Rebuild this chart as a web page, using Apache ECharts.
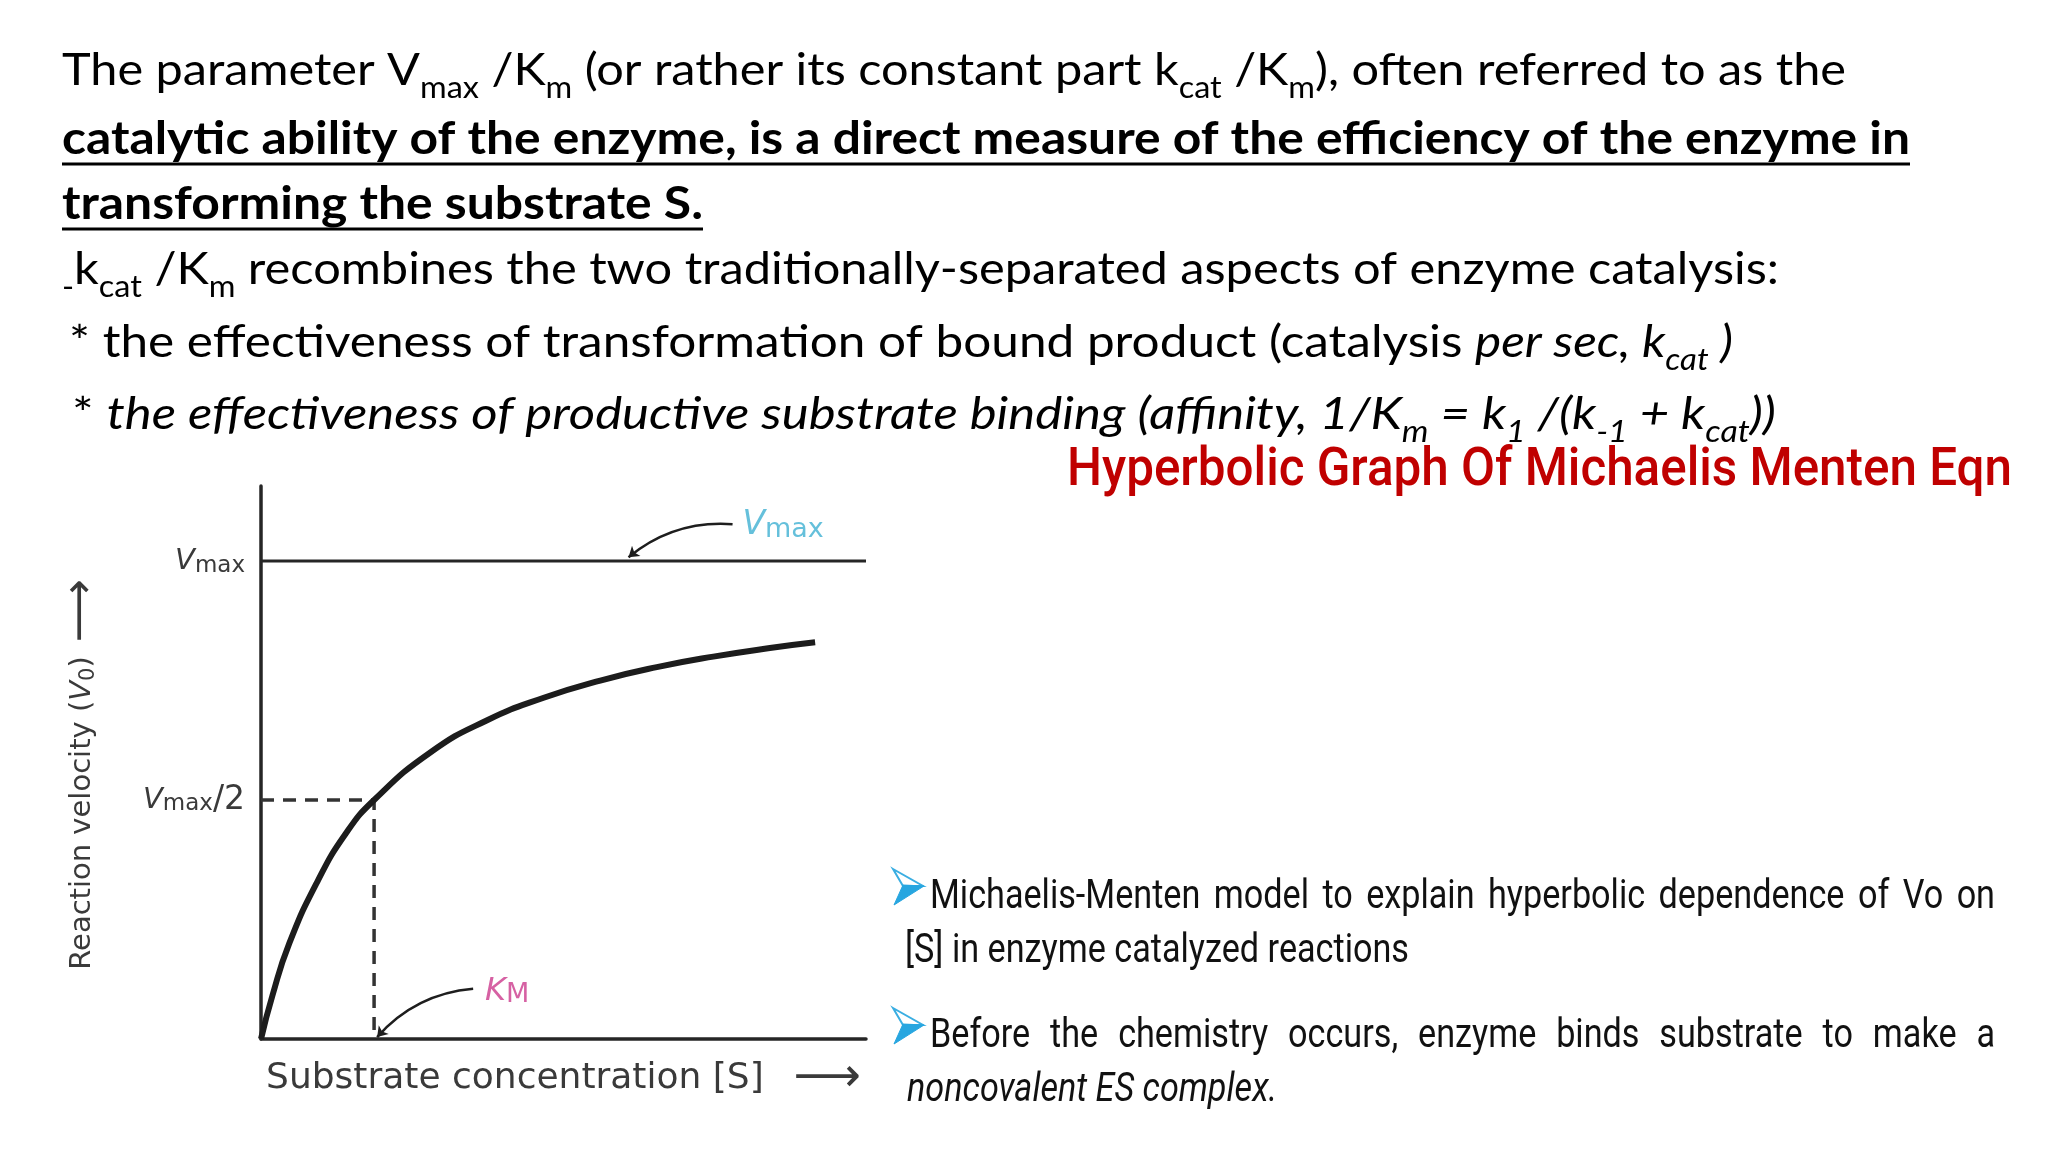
<!DOCTYPE html>
<html>
<head>
<meta charset="utf-8">
<script src="https://cdn.jsdelivr.net/npm/echarts@6/dist/echarts.min.js"></script>
<style>
html,body{margin:0;padding:0;background:#ffffff;}
#chart{width:2048px;height:1152px;}
</style>
</head>
<body>
<div id="chart"></div>
<script>
// ---------------- data ----------------
// substrate concentration in units of K_M, velocity in units of Vmax
const substrateConc    = [0, 0.1, 0.25, 0.5, 0.75, 1, 1.5, 2, 2.5, 3, 3.5, 4, 4.5, 4.9];
const reactionVelocity = [0, 0.09, 0.2, 0.33, 0.43, 0.5, 0.6, 0.667, 0.714, 0.75, 0.778, 0.8, 0.818, 0.83];
const vmaxLevel = 1;
const halfVmaxLevel = 0.5;
const kmValue = 1;
const xAxisMax = 5.35;
const yAxisMax = 1.157;
const yTickValues = [0.5, 1];
const yTickLabels = ['{v|V}{s|max}{n|/2}', '{v|V}{s|max}'];
const xAxisTitle = '{n|Substrate concentration [S]}{a|  ⟶}';
const yAxisTitle = '{n|Reaction velocity (}{v|V}{s|0}{n|)}{a| ⟶}';
const vmaxNote = '{v|V}{s|max}';
const kmNote = '{v|K}{s|M}';

// paragraph text (runs: [text, style])
const introLines = [
  [['The parameter V','n'],['max','s'],[' /K','n'],['m','s'],[' (or rather its constant part k','n'],['cat','s'],[' /K','n'],['m','s'],['), often referred to as the','n']],
  [['catalytic ability of the enzyme, is a direct measure of the efficiency of the enzyme in','b']],
  [['transforming the substrate S.','b']],
  [['-','s'],['k','n'],['cat','s'],[' /K','n'],['m','s'],[' recombines the two traditionally-separated aspects of enzyme catalysis:','n']],
  [['* the effectiveness of transformation of bound product (catalysis ','n'],['per sec, k','i'],['cat','is'],[' )','i']],
  [['* ','n'],['the effectiveness of productive substrate binding (affinity, 1/K','i'],['m','is'],[' = k','i'],['1','is'],[' /(k','i'],['-1','is'],[' + k','i'],['cat','is'],['))','i']]
];
const titleText = 'Hyperbolic Graph Of Michaelis Menten Eqn';
const bulletLines = [
  {text: 'Michaelis-Menten model to explain hyperbolic dependence of Vo on', justify: true, italic: false},
  {text: '[S] in enzyme catalyzed reactions', justify: false, italic: false},
  {text: 'Before the chemistry occurs, enzyme binds substrate to make a', justify: true, italic: false},
  {text: 'noncovalent ES complex.', justify: false, italic: true}
];

// ---------------- text layout helpers ----------------
const mctx = document.createElement('canvas').getContext('2d');
function fontStr(st){ return (st.fontStyle||'normal')+' '+(st.fontWeight||'normal')+' '+st.fontSize+'px '+st.fontFamily; }
function textW(t, st){ mctx.font = fontStr(st); return mctx.measureText(t).width; }
function textEl(t, x, y, st, color){
  return {type:'text', x:x, y:y, silent:true, style:{
    text:t, fill:color, fontSize:st.fontSize, fontFamily:st.fontFamily,
    fontWeight:st.fontWeight||'normal', fontStyle:st.fontStyle||'normal',
    textAlign:'left', align:'left', textVerticalAlign:'middle', verticalAlign:'middle'}};
}
const MID = {Lato:0.387, Roboto:0.342};

const INTRO_STY = {
  n:  {fontFamily:'Lato', fontSize:45, dy:0},
  s:  {fontFamily:'Lato', fontSize:30, dy:12},
  b:  {fontFamily:'Lato', fontSize:45, fontWeight:'bold', dy:0},
  i:  {fontFamily:'Lato', fontSize:45, fontStyle:'italic', dy:0},
  is: {fontFamily:'Lato', fontSize:30, fontStyle:'italic', dy:12}
};
const introPos = [
  {x:62, base:88,  right:1846},
  {x:62, base:157, right:1910, ul:164},
  {x:62, base:222, right:703,  ul:229},
  {x:62, base:287, right:1779},
  {x:69, base:360, right:1733},
  {x:72, base:432, right:1776}
];

const graphics = [];
introLines.forEach((runs, li) => {
  const p = introPos[li];
  let x = 0; const kids = [];
  runs.forEach(([t, k]) => {
    const st = INTRO_STY[k];
    const y = p.base + st.dy - MID.Lato * st.fontSize;
    kids.push(textEl(t, x, y, st, '#000000'));
    x += textW(t, st);
  });
  graphics.push({type:'group', x:p.x, y:0, scaleX:(p.right - p.x)/x, children:kids});
  if (p.ul) {
    graphics.push({type:'line', silent:true, shape:{x1:p.x, y1:p.ul, x2:p.right, y2:p.ul}, style:{stroke:'#000', lineWidth:3}});
  }
});

// red heading
(function(){
  const st = {fontFamily:'Roboto', fontSize:53, fontWeight:500};
  const w = textW(titleText, st);
  const left = 1067, right = 2012, base = 490;
  graphics.push({type:'group', x:left, y:0, scaleX:(right-left)/w,
    children:[textEl(titleText, 0, base - MID.Roboto*st.fontSize, st, '#c00000')]});
})();

// bullet text (justified)
(function(){
  const st = {fontFamily:'Roboto', fontSize:41};
  const sti = {fontFamily:'Roboto', fontSize:41, fontStyle:'italic'};
  const pos = [
    {x:930, base:912, right:1995},
    {x:905, base:966, right:1409},
    {x:930, base:1051, right:1995},
    {x:907, base:1105, right:1272}
  ];
  const scale = (pos[1].right - pos[1].x) / textW(bulletLines[1].text, st);
  bulletLines.forEach((bl, i) => {
    const p = pos[i];
    const s = bl.italic ? sti : st;
    const y = p.base - MID.Roboto*s.fontSize;
    const kids = [];
    if (bl.justify) {
      const words = bl.text.split(' ');
      const ws = words.map(w => textW(w, s));
      const total = ws.reduce((a,b)=>a+b,0);
      const gap = ((p.right - p.x)/scale - total)/(words.length-1);
      let x = 0;
      words.forEach((w, j) => { kids.push(textEl(w, x, y, s, '#111111')); x += ws[j] + gap; });
    } else {
      kids.push(textEl(bl.text, 0, y, s, '#111111'));
    }
    graphics.push({type:'group', x:p.x, y:0, scaleX:scale, children:kids});
  });
  // arrowhead bullets
  [0, 139].forEach(dy => {
    graphics.push({type:'group', x:0, y:dy, silent:true, children:[
      {type:'polygon', shape:{points:[[893,869],[923,886],[903,886]]},
        style:{fill:'#ffffff', stroke:'#3aaee2', lineWidth:2}},
      {type:'polygon', shape:{points:[[903,885],[924,886],[894,905]]},
        style:{fill:'#27a6e0', stroke:'#27a6e0', lineWidth:1}}
    ]});
  });
})();

// ---------------- chart ----------------
const chart = echarts.init(document.getElementById('chart'), null, {renderer:'canvas'});
const curveData = substrateConc.map((s, i) => [s, reactionVelocity[i]]);
const textGrey = '#3a3a3a';
const axisColor = '#262626';
const FF = 'DejaVu Sans';

const option = {
  backgroundColor: '#ffffff',
  animation: false,
  grid: {left:261, right:2048-866, top:486, bottom:1152-1039, containLabel:false},
  xAxis: {
    type:'value', min:0, max:xAxisMax,
    axisLine:{show:true, onZero:false, lineStyle:{color:axisColor, width:3.5}},
    axisTick:{show:false}, axisLabel:{show:false}, splitLine:{show:false},
    name: xAxisTitle, nameLocation:'middle', nameGap:19,
    nameTextStyle:{
      rich:{
        n:{fontFamily:FF, fontSize:36, color:textGrey, lineHeight:42},
        a:{fontFamily:FF, fontSize:47, color:textGrey, lineHeight:42}
      }
    }
  },
  yAxis: {
    type:'value', min:0, max:yAxisMax, interval:0.5,
    axisLine:{show:true, onZero:false, lineStyle:{color:axisColor, width:3.5}},
    axisTick:{show:false}, splitLine:{show:false},
    axisLabel:{
      margin:16,
      formatter: (val) => { const i = yTickValues.indexOf(val); return i >= 0 ? yTickLabels[i] : ''; },
      rich:{
        v:{fontFamily:FF, fontStyle:'italic', fontSize:29, color:textGrey, lineHeight:32},
        s:{fontFamily:FF, fontSize:23, color:textGrey, lineHeight:12, verticalAlign:'bottom'},
        n:{fontFamily:FF, fontSize:33, color:textGrey, lineHeight:32}
      }
    },
    name: yAxisTitle, nameLocation:'middle', nameRotate:90, nameGap:162,
    nameTextStyle:{
      padding:[0,24,0,0],
      rich:{
        n:{fontFamily:FF, fontSize:29, color:textGrey, lineHeight:34},
        v:{fontFamily:FF, fontStyle:'italic', fontSize:29, color:textGrey, lineHeight:34},
        s:{fontFamily:FF, fontSize:21, color:textGrey, lineHeight:14, verticalAlign:'bottom'},
        a:{fontFamily:FF, fontSize:44, color:textGrey, lineHeight:34}
      }
    }
  },
  series: [
    { // Vmax asymptote
      type:'line', silent:true, symbol:'none',
      data:[[0, vmaxLevel],[xAxisMax, vmaxLevel]],
      lineStyle:{color:axisColor, width:3}
    },
    { // Vmax/2 and Km guide
      type:'line', silent:true, symbol:'none',
      data:[[0, halfVmaxLevel],[kmValue, halfVmaxLevel],[kmValue, 0]],
      lineStyle:{color:'#333333', width:3.5, type:[13,9]}
    },
    { // Michaelis–Menten curve
      type:'line', silent:true, symbol:'none', smooth:true,
      data: curveData,
      lineStyle:{color:'#1c1c1c', width:6}
    },
    { // annotation arrows
      type:'lines', coordinateSystem:'cartesian2d', silent:true,
      symbol:['none','arrow'], symbolSize:10,
      lineStyle:{color:'#1e1e1e', width:2.5, opacity:1, curveness:-0.2},
      data:[
        {coords:[[4.17, 1.077],[3.25, 1.008]]},
        {coords:[[1.876, 0.105],[1.027, 0.004]]}
      ]
    },
    { // annotation labels
      type:'scatter', silent:true, symbolSize:0,
      data:[
        {value:[4.257, 1.074], label:{formatter:vmaxNote, rich:{
          v:{fontFamily:FF, fontStyle:'italic', fontSize:33, color:'#3fb0d2', lineHeight:36},
          s:{fontFamily:FF, fontSize:27, color:'#3fb0d2', lineHeight:16, verticalAlign:'bottom'}}}},
        {value:[1.98, 0.099], label:{formatter:kmNote, rich:{
          v:{fontFamily:FF, fontStyle:'italic', fontSize:32, color:'#cc3a8c', lineHeight:34},
          s:{fontFamily:FF, fontSize:27, color:'#cc3a8c', lineHeight:12, verticalAlign:'bottom'}}}}
      ],
      label:{show:true, position:'right', distance:0}
    }
  ],
  graphic: {elements: graphics}
};
chart.setOption(option);
</script>
</body>
</html>
